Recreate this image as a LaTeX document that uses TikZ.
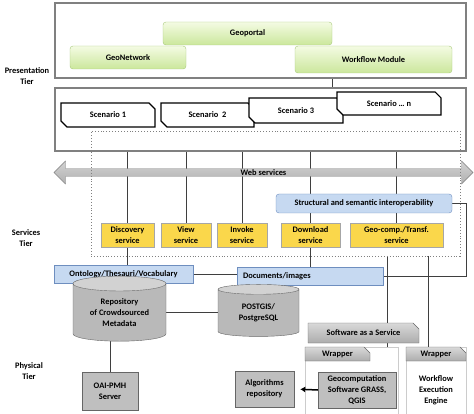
\documentclass[tikz,border=0pt]{standalone}
\usepackage{fontspec}
\setmainfont{Carlito}
\usetikzlibrary{arrows.meta,positioning,shapes.geometric,shapes.misc,shapes.arrows,backgrounds}

\definecolor{greentop}{HTML}{F4FBE3}
\definecolor{greenbot}{HTML}{CBE79C}
\definecolor{greenedge}{HTML}{A8C97C}
\definecolor{bluefill}{HTML}{C6D9F1}
\definecolor{blueedge}{HTML}{6E8EBF}
\definecolor{yellowfill}{HTML}{FAD74B}
\definecolor{edgegray}{HTML}{808080}
\definecolor{linegray}{HTML}{3F3F3F}

\begin{document}
\begin{tikzpicture}[
  x=1pt, y=-1pt,
  font=\bfseries\fontsize{8.4}{11}\selectfont,
  >=Latex,
  frame/.style={rectangle, draw=edgegray, line width=1.2pt, inner sep=0pt},
  portal/.style={rectangle, draw=greenedge, rounded corners=3pt, top color=greentop, bottom color=greenbot, align=center, inner sep=0pt},
  scenario/.style={chamfered rectangle, chamfered rectangle corners={north east,south west}, chamfered rectangle xsep=3pt, chamfered rectangle ysep=3pt, draw=black, line width=1.1pt, fill=white, align=center, inner sep=0pt, minimum height=24},
  service/.style={rectangle, draw=edgegray!70, fill=yellowfill, align=center, inner sep=0pt, minimum height=24},
  data/.style={rectangle, draw=blueedge, fill=bluefill, align=center, inner sep=0pt, minimum height=18},
  machine/.style={rectangle, draw=edgegray!80!black, fill=gray!50, align=center, inner sep=0pt},
  tab/.style={chamfered rectangle, chamfered rectangle corners=north east, chamfered rectangle xsep=3pt, chamfered rectangle ysep=3pt, draw=edgegray!80!black, top color=gray!30, bottom color=gray!65, align=center, inner sep=0pt},
  store/.style={cylinder, shape border rotate=90, aspect=0.25, draw=edgegray!80!black, cylinder uses custom fill, cylinder body fill=gray!55, cylinder end fill=gray!35, align=center, inner sep=0pt},
  holder/.style={rectangle, draw=gray!40, fill=white, inner sep=0pt},
  plain/.style={align=center, inner sep=0pt},
  link/.style={draw=linegray, line width=1pt},
  flow/.style={draw=black, line width=1.5pt, -{Latex[length=5pt,width=6pt]}, shorten >=6pt}
]
\useasboundingbox (0,0) rectangle (474,414);

\node[frame, minimum width=411, minimum height=75] (pres) at (260.5,40.5) {};
\node[frame, minimum width=411, minimum height=63] (scen) at (260.5,119.5) {};

\node[portal, minimum width=169, minimum height=23] (geoportal) at (247.5,33.5) {Geoportal};
\node[portal, minimum width=116, minimum height=23] (geonet) at (128,57.5) {GeoNetwork};
\node[portal, minimum width=157, minimum height=27] (wfm) at (373.5,59.5) {Workflow Module};

\node[scenario, minimum width=94] (sc1) at (108,115) {Scenario 1};
\node[scenario, minimum width=93] (sc2) at (207.5,115) {Scenario~~2};
\node[scenario, minimum width=94, minimum height=25] (sc3) at (296,110.5) {Scenario 3};
\node[scenario, minimum width=104, minimum height=23] (scn) at (389,103.5) {Scenario \dots\ n};

\node[double arrow, draw=edgegray, top color=gray!35, bottom color=gray!62, minimum height=419, minimum width=23, double arrow head extend=6, inner sep=0pt] (web) at (263.5,172.5) {Web services};
\node[draw=gray, dotted, line width=0.9pt, minimum width=369, minimum height=125, inner sep=0pt] (dotted) at (275.5,193.5) {};

\node[data, rounded corners=3pt, minimum width=176, minimum height=19] (struct) at (364,203.5) {Structural and semantic interoperability};

\node[service, minimum width=53] (disc) at (127.5,235) {Discovery\\service};
\node[service, minimum width=50] (view) at (186,235) {View\\service};
\node[service, minimum width=50] (invoke) at (242,235) {Invoke\\service};
\node[service, minimum width=59] (download) at (310.5,235) {Download\\service};
\node[service, minimum width=93] (geocomp) at (396.5,235) {Geo-comp./Transf.\\service};

\node[data, minimum width=139] (onto) at (123.5,274) {Ontology/Thesauri/Vocabulary};
\node[data, minimum width=146, text width=134, align=left, inner xsep=6pt] (docs) at (310,276) {Documents/images};

\node[store, minimum width=93, minimum height=65] (repo) at (119.5,312.5) {Repository\\of Crowdsourced\\Metadata};
\node[store, minimum width=81, minimum height=52] (postgis) at (258.5,313) {POSTGIS/\\PostgreSQL};
\node[machine, minimum width=56, minimum height=38] (oai) at (110,391) {OAI-PMH\\Server};

\node[tab, minimum width=111, minimum height=20] (saas) at (363.5,333) {Software as a Service};
\node[holder, minimum width=93, minimum height=71] (wrapL) at (351.5,382.5) {};
\node[holder, minimum width=60, minimum height=71] (wrapR) at (436,382.5) {};
\node[tab, minimum width=65, minimum height=14, anchor=north west] (wrapLtab) at (wrapL.north west) {Wrapper};
\node[tab, minimum width=60, minimum height=14, anchor=north west] (wrapRtab) at (wrapR.north west) {Wrapper};
\node[machine, minimum width=78, minimum height=36] (geoc) at (357,390) {Geocomputation\\Software GRASS,\\QGIS};
\node[machine, minimum width=59, minimum height=36] (algo) at (264.5,389) {Algorithms\\repository};
\node[plain, below=14pt of wrapRtab] (engine) {Workflow\\Execution\\Engine};

\node[plain] (prestier) at (27,76.5) {Presentation\\Tier};
\node[plain] (servtier) at (26,238.5) {Services\\Tier};
\node[plain] (phystier) at (29,371.5) {Physical\\Tier};

\coordinate (saastap) at (387,256);
\coordinate (enginetap) at (428,256);

\begin{pgfonlayer}{background}
\path[link] (pres.south -| geoportal.east) -- (scen.north -| geoportal.east);
\foreach \s in {disc,view,invoke}
  \path[link] (scen.south -| \s) -- (\s.north);
\foreach \s in {download,geocomp}
  \path[link] (scen.south -| \s) -- (struct.north -| \s);
\foreach \s in {download,geocomp}
  \path[link] (struct.south -| \s) -- (\s.north);
\path[link] (download.south) -- (docs.north -| download);
\path[link] (disc.south) -- (onto.north -| disc);
\path[link] (onto.east) -- (onto.east -| docs.west);
\path[link] (struct.east) -| (scen.east |- docs.east) -- (docs.east);
\path[link] (repo.center) -- (repo.center -| postgis.center);
\path[link] (oai) -- (oai |- repo.center);
\path[link] (saastap) -- (wrapL.north -| saastap);
\path[link] (enginetap) -- (wrapR.north -| enginetap);
\end{pgfonlayer}

\path[flow] (geoc.west) -- (algo.east);

\end{tikzpicture}
\end{document}
